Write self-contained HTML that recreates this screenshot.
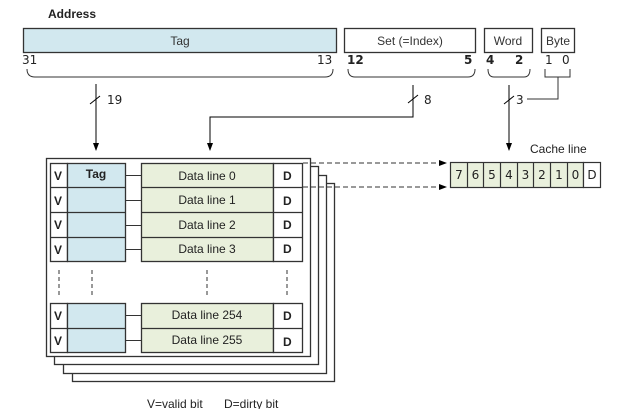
<!DOCTYPE html>
<html><head><meta charset="utf-8"><style>
body{margin:0;background:#fff;}
svg{display:block;font-family:"Liberation Sans",Arial,sans-serif;}
</style></head><body>
<svg width="640" height="409" viewBox="0 0 640 409" xmlns="http://www.w3.org/2000/svg">
<defs>
<marker id="ah" markerWidth="8" markerHeight="8" refX="7" refY="4" orient="auto" markerUnits="userSpaceOnUse">
<path d="M0,1 L8,4 L0,7 Z" fill="#000"/></marker>
</defs>
<text x="48" y="18" font-size="12" font-weight="bold" fill="#222">Address</text>
<rect x="23.5" y="28.5" width="313" height="24" fill="#d2e8ef" stroke="#333" stroke-width="1.3"/>
<text x="180" y="45" font-size="12" text-anchor="middle" fill="#333">Tag</text>
<rect x="344.5" y="28.5" width="131" height="24" fill="#fff" stroke="#333" stroke-width="1.3"/>
<text x="410" y="45" font-size="12" text-anchor="middle" fill="#333">Set (=Index)</text>
<rect x="484.5" y="28.5" width="48" height="24" fill="#fff" stroke="#333" stroke-width="1.3"/>
<text x="508" y="45" font-size="12" text-anchor="middle" fill="#333">Word</text>
<rect x="541.5" y="28.5" width="33" height="24" fill="#fff" stroke="#333" stroke-width="1.3"/>
<text x="558" y="45" font-size="12" text-anchor="middle" fill="#333">Byte</text>
<g font-size="12" fill="#222" font-family="DejaVu Sans, sans-serif">
<text x="22" y="64">31</text>
<text x="317" y="64">13</text>
<text x="347" y="64" font-weight="bold">12</text>
<text x="464" y="64" font-weight="bold">5</text>
<text x="486" y="64" font-weight="bold">4</text>
<text x="515" y="64" font-weight="bold">2</text>
<text x="545" y="64">1</text>
<text x="562" y="64">0</text>
</g>
<g fill="none" stroke="#333" stroke-width="1">
<path d="M27,69 Q27,77 35,77 L325,77 Q333,77 333,69"/>
<path d="M348,69 Q348,77 355,77 L468,77 Q475,77 475,69"/>
<path d="M488,69 Q488,77 494,77 L524,77 Q530,77 530,69"/>
<path d="M545,69 L545,77 L570,77 L570,69"/>
<path d="M558,77 L558,99 L527,99"/>
</g>
<g stroke="#000" stroke-width="1" fill="none">
<line x1="96" y1="84" x2="96" y2="150" marker-end="url(#ah)"/>
<line x1="90" y1="104" x2="100" y2="96"/>
<polyline points="413,85 413,117 210,117 210,150" marker-end="url(#ah)"/>
<line x1="408" y1="103" x2="418" y2="95"/>
<line x1="509" y1="85" x2="509" y2="150" marker-end="url(#ah)"/>
<line x1="504" y1="104" x2="514" y2="96"/>
</g>
<g font-size="12" fill="#222" font-family="DejaVu Sans, sans-serif">
<text x="107" y="104">19</text>
<text x="424" y="104">8</text>
<text x="516" y="104">3</text>
</g>
<text x="530" y="153" font-size="12" fill="#222">Cache line</text>
<g fill="#fff" stroke="#333" stroke-width="1.3">
<rect x="72.5" y="183.5" width="262" height="198"/>
<rect x="63.5" y="175.5" width="263" height="198"/>
<rect x="54.5" y="166.5" width="264" height="198"/>
<rect x="46.5" y="158.5" width="264" height="198"/>
</g>
<g stroke="#333" stroke-width="1.3">
<rect x="50.5" y="163.5" width="17" height="98" fill="#fff"/>
<rect x="67.5" y="163.5" width="58" height="98" fill="#d2e8ef"/>
<rect x="141.5" y="163.5" width="132" height="98" fill="#e9f0dc"/>
<rect x="273.5" y="163.5" width="29" height="98" fill="#fff"/>
<line x1="50" y1="187.5" x2="126" y2="187.5"/><line x1="50" y1="212.5" x2="126" y2="212.5"/><line x1="50" y1="237.5" x2="126" y2="237.5"/>
<line x1="141" y1="187.5" x2="303" y2="187.5"/><line x1="141" y1="212.5" x2="303" y2="212.5"/><line x1="141" y1="237.5" x2="303" y2="237.5"/>
<rect x="50.5" y="303.5" width="17" height="49" fill="#fff"/>
<rect x="67.5" y="303.5" width="58" height="49" fill="#d2e8ef"/>
<rect x="141.5" y="303.5" width="132" height="49" fill="#e9f0dc"/>
<rect x="273.5" y="303.5" width="29" height="49" fill="#fff"/>
<line x1="50" y1="328.5" x2="126" y2="328.5"/>
<line x1="141" y1="328.5" x2="303" y2="328.5"/>
</g>
<g stroke="#333" stroke-width="1">
<line x1="126" y1="175.5" x2="141" y2="175.5"/><line x1="126" y1="200.5" x2="141" y2="200.5"/>
<line x1="126" y1="225.5" x2="141" y2="225.5"/><line x1="126" y1="249.5" x2="141" y2="249.5"/>
<line x1="126" y1="315.5" x2="141" y2="315.5"/><line x1="126" y1="340.5" x2="141" y2="340.5"/>
</g>
<g stroke="#333" stroke-width="1" stroke-dasharray="4,3">
<line x1="59" y1="270" x2="59" y2="296"/><line x1="92" y1="270" x2="92" y2="296"/>
<line x1="207" y1="270" x2="207" y2="296"/><line x1="287" y1="270" x2="287" y2="296"/>
</g>
<g font-size="12" fill="#222" font-weight="bold">
<text x="54" y="180">V</text><text x="54" y="205">V</text><text x="54" y="229">V</text><text x="54" y="254">V</text>
<text x="54" y="320">V</text><text x="54" y="345">V</text>
<text x="96" y="178" text-anchor="middle">Tag</text>
<text x="283" y="180">D</text><text x="283" y="205">D</text><text x="283" y="229">D</text><text x="283" y="253">D</text>
<text x="283" y="320">D</text><text x="283" y="346">D</text>
</g>
<g font-size="12" fill="#222" text-anchor="middle">
<text x="207" y="180">Data line 0</text>
<text x="207" y="204">Data line 1</text>
<text x="207" y="229">Data line 2</text>
<text x="207" y="253">Data line 3</text>
<text x="207" y="319">Data line 254</text>
<text x="207" y="344">Data line 255</text>
</g>
<g stroke="#333" stroke-width="1" stroke-dasharray="5,3" fill="none">
<line x1="303" y1="163" x2="446" y2="163" marker-end="url(#ah)"/>
<line x1="303" y1="187" x2="446" y2="187" marker-end="url(#ah)"/>
</g>
<g stroke="#333" stroke-width="1.2">
<rect x="450.5" y="162.5" width="133" height="25" fill="#e9f0dc"/>
<rect x="583.5" y="162.5" width="17" height="25" fill="#fff"/>
<line x1="467.5" y1="162" x2="467.5" y2="188"/><line x1="483.5" y1="162" x2="483.5" y2="188"/>
<line x1="500.5" y1="162" x2="500.5" y2="188"/><line x1="517.5" y1="162" x2="517.5" y2="188"/>
<line x1="533.5" y1="162" x2="533.5" y2="188"/><line x1="550.5" y1="162" x2="550.5" y2="188"/>
<line x1="567.5" y1="162" x2="567.5" y2="188"/>
</g>
<g font-size="12" fill="#222" text-anchor="middle" font-family="DejaVu Sans, sans-serif">
<text x="459" y="179">7</text><text x="475.5" y="179">6</text><text x="492" y="179">5</text>
<text x="509" y="179">4</text><text x="525.5" y="179">3</text><text x="542" y="179">2</text>
<text x="559" y="179">1</text><text x="575.5" y="179">0</text><text x="592" y="179">D</text>
</g>
<text x="147" y="408" font-size="12" fill="#222">V=valid bit</text>
<text x="224" y="408" font-size="12" fill="#222">D=dirty bit</text>
</svg>
</body></html>
